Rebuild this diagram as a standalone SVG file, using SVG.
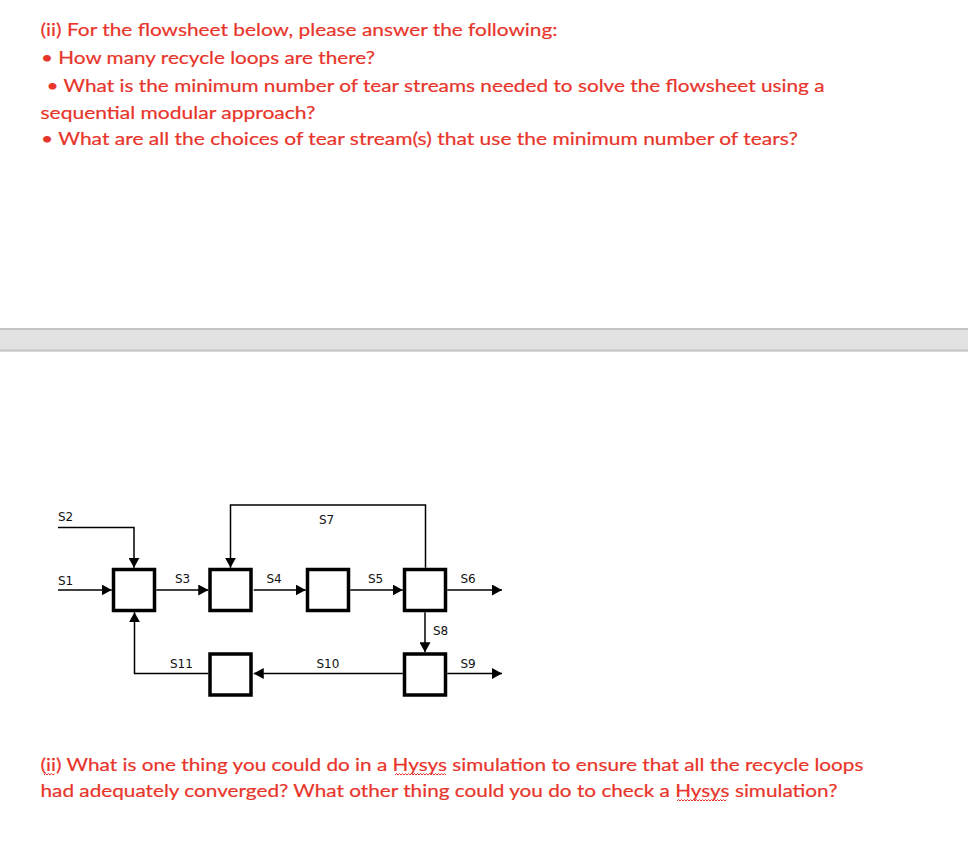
<svg xmlns="http://www.w3.org/2000/svg" width="968" height="848" viewBox="0 0 968 848">
<style>
.q{font-family:Lato,"Open Sans","Liberation Sans",sans-serif;font-size:17.5px;fill:#e8352b;stroke:#e8352b;stroke-width:0.2}
.lbl{font-family:"DejaVu Sans",Verdana,sans-serif;font-size:12px;fill:#111}
.box{fill:#fff;stroke:#000;stroke-width:3.5}
.c{fill:none;stroke:#000;stroke-width:1.5}
.sq{fill:none;stroke:#e8352b;stroke-width:1}
</style>
<defs>
<marker id="arr" markerUnits="userSpaceOnUse" markerWidth="10" markerHeight="11" refX="10" refY="5.5" orient="auto">
<path d="M0,0 L10,5.5 L0,11 z" fill="#000"/>
</marker>
</defs>
<rect width="968" height="848" fill="#fff"/>
<g id="question-top">
<text class="q" x="40.5" y="36" textLength="517" lengthAdjust="spacingAndGlyphs">(ii) For the flowsheet below, please answer the following:</text>
<text class="q" x="41" y="64" textLength="334" lengthAdjust="spacingAndGlyphs">• How many recycle loops are there?</text>
<text class="q" x="46.5" y="91.5" textLength="778" lengthAdjust="spacingAndGlyphs">• What is the minimum number of tear streams needed to solve the flowsheet using a</text>
<text class="q" x="40.5" y="118.5" textLength="275" lengthAdjust="spacingAndGlyphs">sequential modular approach?</text>
<text class="q" x="41" y="145" textLength="757" lengthAdjust="spacingAndGlyphs">• What are all the choices of tear stream(s) that use the minimum number of tears?</text>
</g>
<g id="divider">
<rect x="0" y="328" width="968" height="23.5" fill="#e2e2e2"/>
<line x1="0" y1="329" x2="968" y2="329" stroke="#c4c4c4" stroke-width="2"/>
<line x1="0" y1="350.5" x2="968" y2="350.5" stroke="#c4c4c4" stroke-width="2"/>
</g>
<g id="connectors">
<path class="c" d="M58,527.5 H134 V567.75" marker-end="url(#arr)"/>
<path class="c" d="M58,590 H111.75" marker-end="url(#arr)"/>
<path class="c" d="M156.25,590 H208.25" marker-end="url(#arr)"/>
<path class="c" d="M253.75,590 H305.75" marker-end="url(#arr)"/>
<path class="c" d="M350.25,590 H402.75" marker-end="url(#arr)"/>
<path class="c" d="M447.25,590 H502" marker-end="url(#arr)"/>
<path class="c" d="M425.5,567.75 V505 H230.5 V567.75" marker-end="url(#arr)"/>
<path class="c" d="M425,612.25 V652.25" marker-end="url(#arr)"/>
<path class="c" d="M447.25,673.5 H502" marker-end="url(#arr)"/>
<path class="c" d="M402.75,673.5 H253.75" marker-end="url(#arr)"/>
<path class="c" d="M208.25,673.5 H134.5 V612.25" marker-end="url(#arr)"/>
</g>
<g id="unit1"><rect class="box" x="113.5" y="569.5" width="41" height="41"/></g>
<g id="unit2"><rect class="box" x="210" y="569.5" width="41" height="41"/></g>
<g id="unit3"><rect class="box" x="307.5" y="569.5" width="41" height="41"/></g>
<g id="unit4"><rect class="box" x="404.5" y="569.5" width="41" height="41"/></g>
<g id="unit5"><rect class="box" x="404.5" y="654" width="41" height="41"/></g>
<g id="unit6"><rect class="box" x="210" y="654" width="41" height="41"/></g>
<g id="labels">
<text class="lbl" x="58" y="520.5">S2</text>
<text class="lbl" x="58" y="584.5">S1</text>
<text class="lbl" x="175" y="582.5">S3</text>
<text class="lbl" x="266.5" y="582.5">S4</text>
<text class="lbl" x="368" y="582.5">S5</text>
<text class="lbl" x="460.5" y="582.5">S6</text>
<text class="lbl" x="319" y="524">S7</text>
<text class="lbl" x="433" y="634.5">S8</text>
<text class="lbl" x="170" y="667.5">S11</text>
<text class="lbl" x="316.5" y="667.5">S10</text>
<text class="lbl" x="460.5" y="667.5">S9</text>
</g>
<g id="question-bottom">
<text class="q" x="40.5" y="771" textLength="823" lengthAdjust="spacingAndGlyphs">(ii) What is one thing you could do in a Hysys simulation to ensure that all the recycle loops</text>
<text class="q" x="40.5" y="797" textLength="797" lengthAdjust="spacingAndGlyphs">had adequately converged? What other thing could you do to check a Hysys simulation?</text>
<path class="sq" d="M44,775 l1.5,-1.5 l1.5,1.5 l1.5,-1.5 l1.5,1.5 l1.5,-1.5 l1.5,1.5 l1.5,-1.5"/>
<path class="sq" d="M395,775 l1.5,-1.5 l1.5,1.5 l1.5,-1.5 l1.5,1.5 l1.5,-1.5 l1.5,1.5 l1.5,-1.5 l1.5,1.5 l1.5,-1.5 l1.5,1.5 l1.5,-1.5 l1.5,1.5 l1.5,-1.5 l1.5,1.5 l1.5,-1.5 l1.5,1.5 l1.5,-1.5 l1.5,1.5 l1.5,-1.5 l1.5,1.5 l1.5,-1.5 l1.5,1.5 l1.5,-1.5 l1.5,1.5 l1.5,-1.5 l1.5,1.5 l1.5,-1.5 l1.5,1.5 l1.5,-1.5 l1.5,1.5 l1.5,-1.5 l1.5,1.5 l1.5,-1.5 l1.5,1.5"/>
<path class="sq" d="M677,801 l1.5,-1.5 l1.5,1.5 l1.5,-1.5 l1.5,1.5 l1.5,-1.5 l1.5,1.5 l1.5,-1.5 l1.5,1.5 l1.5,-1.5 l1.5,1.5 l1.5,-1.5 l1.5,1.5 l1.5,-1.5 l1.5,1.5 l1.5,-1.5 l1.5,1.5 l1.5,-1.5 l1.5,1.5 l1.5,-1.5 l1.5,1.5 l1.5,-1.5 l1.5,1.5 l1.5,-1.5 l1.5,1.5 l1.5,-1.5 l1.5,1.5 l1.5,-1.5 l1.5,1.5 l1.5,-1.5 l1.5,1.5 l1.5,-1.5 l1.5,1.5 l1.5,-1.5"/>
</g>
</svg>
